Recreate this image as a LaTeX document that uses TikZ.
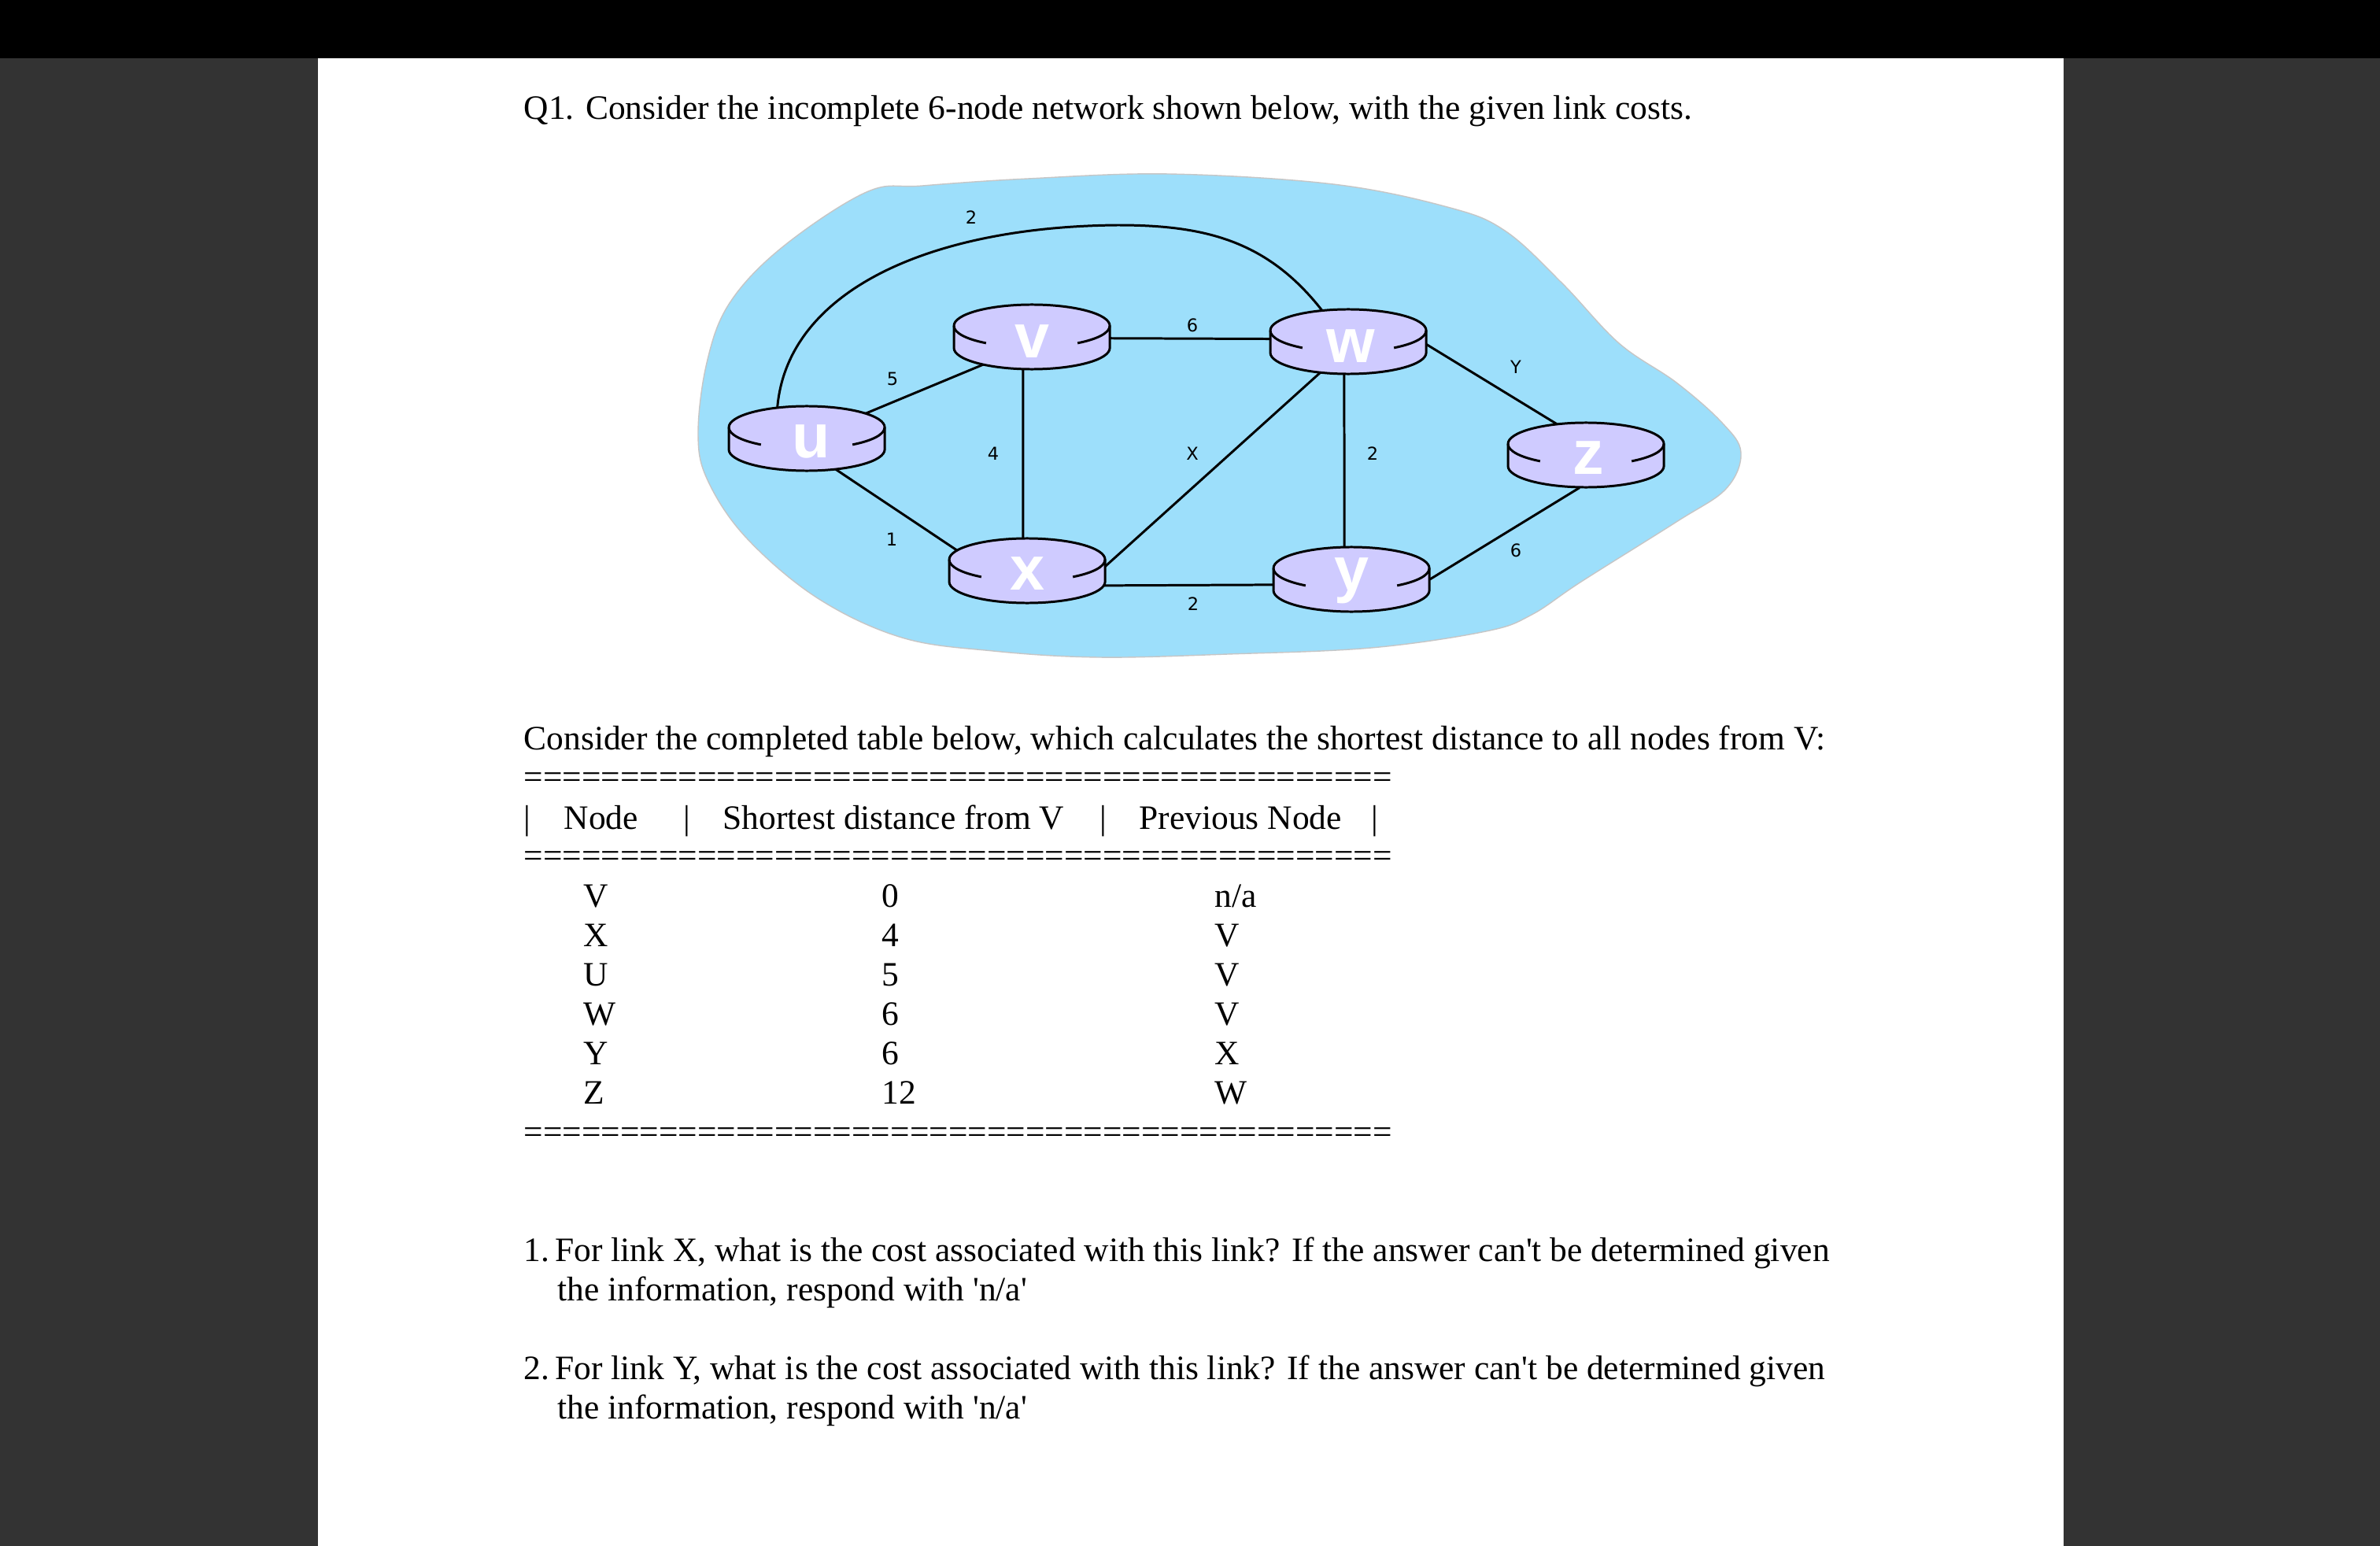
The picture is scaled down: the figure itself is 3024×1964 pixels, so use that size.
\documentclass[tikz,border=0pt]{standalone}
\usepackage{fontspec}
\usetikzlibrary{backgrounds,shapes.geometric}
\newfontfamily\docfont{Liberation Serif}
\newfontfamily\netfont{DejaVu Sans}
\newfontfamily\routerfont{Liberation Sans Bold}
\definecolor{cloudblue}{HTML}{9DDFFB}
\definecolor{routerfill}{HTML}{CFCBFF}
\definecolor{pagedark}{HTML}{333333}
\newcommand{\eqline}{=============================================}
\tikzset{
  routerbody/.style={draw=black, fill=routerfill, line width=0.85pt},
  routerarc/.style={draw=black, line width=0.85pt},
  router/.style={ellipse, minimum width=1.98cm, minimum height=0.82cm, inner sep=0pt, text=white,
    font=\routerfont\fontsize{22.5}{22.5}\selectfont, text height=13.7pt, text depth=0pt},
  link/.style={draw=black, line width=0.85pt},
  linkcost/.style={font=\netfont\fontsize{6.4}{7}\selectfont, inner sep=0pt},
  doctext/.style={anchor=base west, inner sep=0pt, font=\docfont\fontsize{12.36}{12.36}\selectfont}
}
\begin{document}
\begin{tikzpicture}[x=0.01cm,y=-0.01cm]
\useasboundingbox (0,0) rectangle (3024,1964);
\foreach \n/\x/\y/\t in {u/1025/557/{\hspace*{3.4pt}u},v/1311/428/{\raisebox{-0.8pt}{v}},x/1305/725/x,
    w/1713/434/{\hspace*{1.7pt}\raisebox{-0.8pt}{w}},y/1717/736/{\raisebox{2.6pt}{y}},z/2015/578/{\hspace*{1.7pt}z}}{
    \draw[routerbody] (\x-99,\y-14) arc[start angle=180,end angle=0,x radius=.99cm,y radius=.27cm]
        -- ++(0,28) arc[start angle=0,end angle=-180,x radius=.99cm,y radius=.27cm] -- cycle;
    \draw[routerarc] (\x-99,\y-14) arc[start angle=180,end angle=234,x radius=.99cm,y radius=.27cm];
    \draw[routerarc] (\x+99,\y-14) arc[start angle=0,end angle=-54,x radius=.99cm,y radius=.27cm];
    \node[router] (\n) at (\x,\y) {\t};
}
\begin{scope}[on background layer]
\fill[pagedark] (0,0) rectangle (3024,1964);
\fill[black] (0,0) rectangle (3024,74);
\fill[white] (404,74) rectangle (2622,1964);
\fill[cloudblue, draw=gray!45, line width=0.4pt] plot[smooth cycle, tension=0.6] coordinates {
    (1101,244) (1172,236) (1306,227) (1485,221) (1694,234) (1839,263) (1912,293) (1985,360)
    (2057,436) (2130,486) (2188,537) (2212,575) (2193,621) (2130,663) (2009,739) (1946,781)
    (1888,802) (1742,823) (1560,831) (1396,835) (1262,827) (1146,810) (1039,760) (949,684)
    (900,612) (887,553) (898,461) (927,385) (994,314)};
\draw[link] (u.134) .. controls (1000,370) and (1180,288) .. (1420,286)
    .. controls (1530,286) and (1610,305) .. (w.130);
\draw[link] (u.23) -- (v.210);
\draw[link] (u.-47) -- (x.165);
\draw[link] (v.255) -- (x.97);
\draw[link] (v.-1) -- (w.178);
\draw[link] (x.3) -- (w.228);
\draw[link] (x.-12) -- (y.184.5);
\draw[link] (w.263) -- (y.102);
\draw[link] (w.-2) -- (z.133);
\draw[link] (y.0) -- (z.259);
\end{scope}
\foreach \n/\x/\y/\t in {ca/1234/276/2,cb/1134/481/5,cc/1262/576/4,cd/1133/685/1,ce/1515/413/6,
    cf/1515/576/X,cg/1516/767/2,ch/1744/576/2,ci/1926/466/Y,cj/1926/699/6}
    \node[linkcost] (\n) at (\x,\y) {\t};
\node[doctext] (title) at (665,152) {Q1. Consider the incomplete 6-node network shown below, with the given link costs.};
\node[doctext] (intro) at (665,952) {Consider the completed table below, which calculates the shortest distance to all nodes from V:};
\node[doctext] (ruletop) at (665,1001) {\eqline};
\node[doctext] (rulemid) at (665,1101) {\eqline};
\node[doctext] (rulebot) at (665,1452) {\eqline};
\foreach \n/\x/\t in {ha/665/|,hb/716/Node,hc/868/|,hd/918/Shortest distance from V,he/1397/|,hf/1447/Previous Node,hg/1742/|}
    \node[doctext] (\n) at (\x,1053) {\t};
\foreach \n/\y/\a/\b/\c in {ra/1152/V/0/n\slash a,rb/1202/X/4/V,rc/1252/U/5/V,rd/1302/W/6/V,re/1352/Y/6/X,rf/1402/Z/12/W}{
    \node[doctext] (\n a) at (741,\y) {\a};
    \node[doctext] (\n b) at (1120,\y) {\b};
    \node[doctext] (\n c) at (1543,\y) {\c};
}
\node[doctext] (qa) at (665,1602) {1.\kern2pt For link X, what is the cost associated with this link? If the answer can't be determined given};
\node[doctext] (qb) at (708,1652) {the information, respond with 'n/a'};
\node[doctext] (qc) at (665,1752) {2.\kern2pt For link Y, what is the cost associated with this link? If the answer can't be determined given};
\node[doctext] (qd) at (708,1802) {the information, respond with 'n/a'};
\end{tikzpicture}
\end{document}
